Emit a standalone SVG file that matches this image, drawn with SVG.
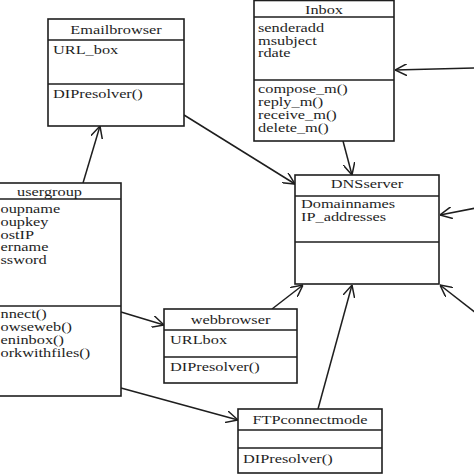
<svg xmlns="http://www.w3.org/2000/svg" width="474" height="474" viewBox="0 0 474 474">
<style>
.box{fill:#fff;stroke:#1e1e1e;stroke-width:1.6}
.div{stroke:#1e1e1e;stroke-width:1.4}
.t{font-family:"Liberation Serif","Times New Roman",serif;font-size:12px;fill:#1e1e1e}
.c{text-anchor:middle}
.ln{stroke:#1e1e1e;stroke-width:1.5;fill:none;marker-end:url(#arr)}
</style>
<defs>
<marker id="arr" viewBox="0 0 12 12" refX="12" refY="6" markerWidth="12" markerHeight="12" markerUnits="userSpaceOnUse" orient="auto">
<path d="M0,0 L12,6 L0,12" fill="none" stroke="#1e1e1e" stroke-width="1.5"/>
</marker>
</defs>
<rect width="474" height="474" fill="#fff"/>

<g id="connectors">
<line class="ln" x1="83" y1="183" x2="100" y2="126"/>
<line class="ln" x1="184" y1="115" x2="295" y2="184"/>
<line class="ln" x1="343" y1="141" x2="352" y2="175"/>
<line class="ln" x1="476" y1="68" x2="395" y2="70"/>
<line class="ln" x1="476" y1="208" x2="440" y2="215"/>
<line class="ln" x1="272" y1="309" x2="303" y2="285"/>
<line class="ln" x1="318" y1="409" x2="352" y2="285"/>
<line class="ln" x1="476" y1="313" x2="440" y2="285"/>
<line class="ln" x1="121" y1="312" x2="164" y2="325"/>
<line class="ln" x1="121" y1="388" x2="238" y2="420"/>
</g>

<g id="Emailbrowser">
<rect class="box" x="48" y="19" width="136" height="107"/>
<line class="div" x1="48" y1="40" x2="184" y2="40"/>
<line class="div" x1="48" y1="84" x2="184" y2="84"/>
<text class="t c" transform="translate(116,34) scale(1.36,1)">Emailbrowser</text>
<text class="t" transform="translate(53,54) scale(1.36,1)">URL_box</text>
<text class="t" transform="translate(53,98) scale(1.36,1)">DIPresolver()</text>
</g>

<g id="Inbox">
<rect class="box" x="254" y="0.5" width="140" height="140.5"/>
<line class="div" x1="254" y1="17" x2="394" y2="17"/>
<line class="div" x1="254" y1="80" x2="394" y2="80"/>
<text class="t c" transform="translate(324,14) scale(1.36,1)">Inbox</text>
<text class="t" transform="translate(258,32) scale(1.36,1)">senderadd</text>
<text class="t" transform="translate(258,45) scale(1.36,1)">msubject</text>
<text class="t" transform="translate(258,57) scale(1.36,1)">rdate</text>
<text class="t" transform="translate(258,93) scale(1.36,1)">compose_m()</text>
<text class="t" transform="translate(258,106) scale(1.36,1)">reply_m()</text>
<text class="t" transform="translate(258,119) scale(1.36,1)">receive_m()</text>
<text class="t" transform="translate(258,132) scale(1.36,1)">delete_m()</text>
</g>

<g id="DNSserver">
<rect class="box" x="295" y="175" width="144" height="109"/>
<line class="div" x1="295" y1="196" x2="439" y2="196"/>
<line class="div" x1="295" y1="242" x2="439" y2="242"/>
<text class="t c" transform="translate(367,188) scale(1.36,1)">DNSserver</text>
<text class="t" transform="translate(301,208) scale(1.36,1)">Domainnames</text>
<text class="t" transform="translate(301,221) scale(1.36,1)">IP_addresses</text>
</g>

<g id="usergroup">
<rect class="box" x="-22" y="183" width="143" height="213"/>
<line class="div" x1="-22" y1="199" x2="121" y2="199"/>
<line class="div" x1="-22" y1="306" x2="121" y2="306"/>
<text class="t c" transform="translate(49.5,196) scale(1.36,1)">usergroup</text>
<text class="t" transform="translate(0.5,213) scale(1.36,1)">oupname</text>
<text class="t" transform="translate(0.5,226) scale(1.36,1)">oupkey</text>
<text class="t" transform="translate(0.5,239) scale(1.36,1)">ostIP</text>
<text class="t" transform="translate(0.5,251) scale(1.36,1)">ername</text>
<text class="t" transform="translate(0.5,264) scale(1.36,1)">ssword</text>
<text class="t" transform="translate(0.5,318) scale(1.36,1)">nnect()</text>
<text class="t" transform="translate(0.5,331) scale(1.36,1)">owseweb()</text>
<text class="t" transform="translate(0.5,344) scale(1.36,1)">eninbox()</text>
<text class="t" transform="translate(0.5,357) scale(1.36,1)">orkwithfiles()</text>
</g>

<g id="webbrowser">
<rect class="box" x="164" y="309" width="133" height="74"/>
<line class="div" x1="164" y1="330" x2="297" y2="330"/>
<line class="div" x1="164" y1="357" x2="297" y2="357"/>
<text class="t c" transform="translate(230.5,324) scale(1.36,1)">webbrowser</text>
<text class="t" transform="translate(170,344) scale(1.36,1)">URLbox</text>
<text class="t" transform="translate(170,371) scale(1.36,1)">DIPresolver()</text>
</g>

<g id="FTPconnectmode">
<rect class="box" x="238" y="409" width="144" height="64"/>
<line class="div" x1="238" y1="430" x2="382" y2="430"/>
<line class="div" x1="238" y1="448" x2="382" y2="448"/>
<text class="t c" transform="translate(310,424) scale(1.36,1)">FTPconnectmode</text>
<text class="t" transform="translate(243,463) scale(1.36,1)">DIPresolver()</text>
</g>
</svg>
